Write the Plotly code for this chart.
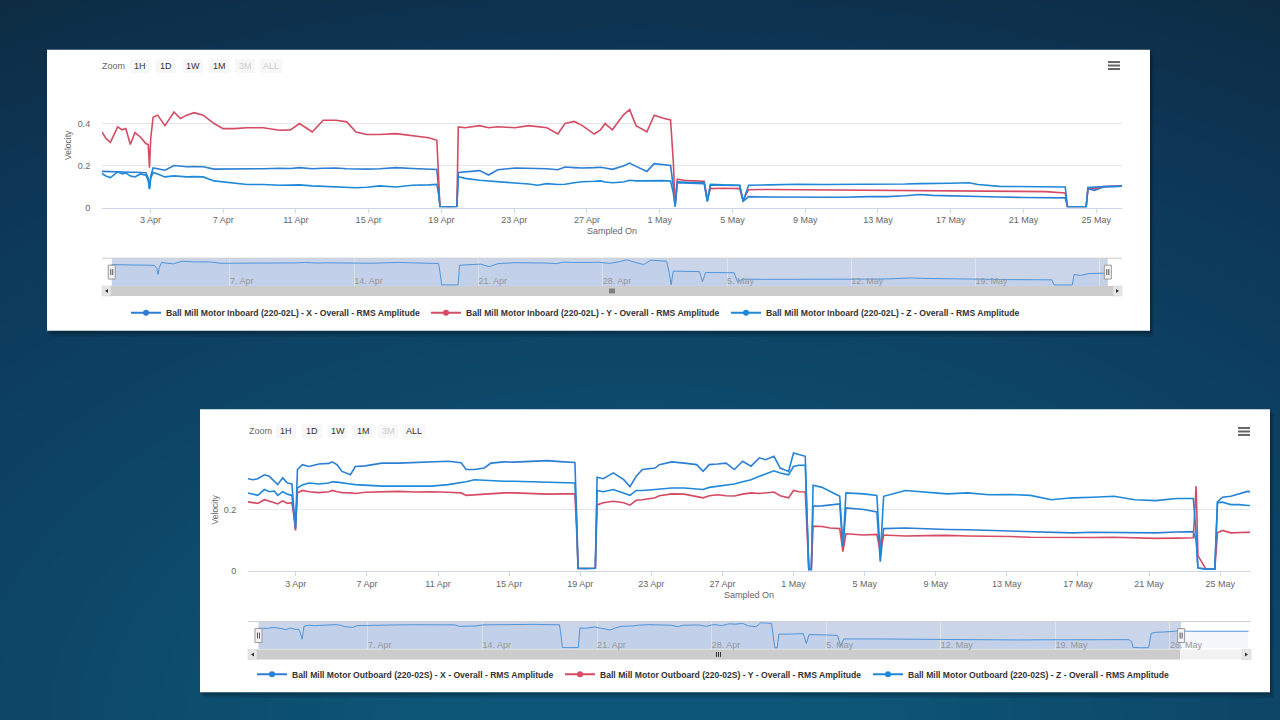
import plotly.graph_objects as go
from datetime import datetime, timedelta

W, H = 1280, 720
BASE = datetime(2019, 4, 1)
FONT = "Liberation Sans, Arial, sans-serif"

# ---------------- data: time in days after 1 Apr, values = velocity (RMS amplitude)
top_days = [-0.66, -0.45, -0.2, 0.0, 0.2, 0.45, 0.65, 0.9, 1.15, 1.45,
            1.75, 1.88, 1.95, 2.02, 2.15, 2.4, 2.8, 3.3, 3.65, 4.0,
            4.4, 4.9, 5.5, 6.0, 6.6, 7.3, 8.2, 9.1, 9.7, 10.2,
            10.9, 11.5, 12.2, 12.8, 13.3, 13.9, 14.6, 15.5, 16.4, 17.3,
            17.75, 17.85, 17.92, 18.4, 18.85, 18.93, 19.3, 20.1, 20.6, 21.1,
            22.05, 22.8, 23.3, 23.8, 24.4, 24.8, 25.3, 25.75, 26.4, 26.75,
            27.0, 27.4, 28.0, 28.35, 28.7, 29.3, 29.7, 30.2, 30.6, 30.75,
            30.85, 30.97, 31.5, 32.0, 32.45, 32.62, 32.79, 33.5, 34.4, 34.59,
            34.89, 36.0, 37.6, 39.0, 40.1, 41.5, 42.5, 43.5, 44.3, 45.0,
            46.0, 47.0, 47.5, 48.7, 50.0, 51.2, 52.3, 52.42, 53.0, 53.45,
            53.55, 53.9, 54.4, 55.0, 55.45]
top_x = [0.172, 0.171, 0.171, 0.170, 0.170, 0.169, 0.169, 0.168, 0.168, 0.167,
         0.166, 0.140, 0.090, 0.150, 0.189, 0.185, 0.178, 0.200, 0.196, 0.194,
         0.195, 0.194, 0.183, 0.183, 0.184, 0.186, 0.185, 0.187, 0.186, 0.190,
         0.185, 0.187, 0.188, 0.185, 0.184, 0.183, 0.185, 0.190, 0.186, 0.183,
         0.181, 0.090, 0.005, 0.004, 0.005, 0.167, 0.170, 0.176, 0.155, 0.180,
         0.188, 0.188, 0.188, 0.185, 0.180, 0.193, 0.190, 0.188, 0.190, 0.192,
         0.188, 0.182, 0.198, 0.212, 0.196, 0.172, 0.209, 0.205, 0.200, 0.100,
         0.005, 0.118, 0.116, 0.115, 0.114, 0.030, 0.106, 0.106, 0.105, 0.030,
         0.052, 0.050, 0.049, 0.051, 0.049, 0.052, 0.052, 0.056, 0.062, 0.058,
         0.055, 0.052, 0.054, 0.050, 0.048, 0.047, 0.046, 0.004, 0.004, 0.004,
         0.090, 0.082, 0.098, 0.101, 0.102]
top_y = [0.36, 0.33, 0.31, 0.35, 0.384, 0.37, 0.376, 0.30, 0.357, 0.336,
         0.305, 0.30, 0.19, 0.33, 0.43, 0.44, 0.39, 0.455, 0.424, 0.44,
         0.452, 0.44, 0.40, 0.376, 0.376, 0.38, 0.38, 0.368, 0.37, 0.40,
         0.36, 0.416, 0.416, 0.408, 0.36, 0.348, 0.348, 0.352, 0.341, 0.332,
         0.32, 0.15, 0.005, 0.004, 0.005, 0.384, 0.38, 0.39, 0.38, 0.385,
         0.38, 0.39, 0.385, 0.38, 0.35, 0.40, 0.41, 0.39, 0.35, 0.37,
         0.40, 0.37, 0.44, 0.466, 0.39, 0.36, 0.44, 0.425, 0.417, 0.22,
         0.006, 0.135, 0.128, 0.125, 0.125, 0.04, 0.09, 0.092, 0.09, 0.035,
         0.085, 0.086, 0.085, 0.084, 0.085, 0.083, 0.082, 0.082, 0.080, 0.080,
         0.079, 0.078, 0.078, 0.077, 0.077, 0.076, 0.069, 0.004, 0.004, 0.004,
         0.095, 0.090, 0.100, 0.103, 0.104]
top_z = [0.162, 0.150, 0.143, 0.158, 0.170, 0.160, 0.165, 0.150, 0.146, 0.160,
         0.154, 0.130, 0.088, 0.140, 0.167, 0.160, 0.146, 0.151, 0.148, 0.146,
         0.147, 0.146, 0.127, 0.122, 0.118, 0.110, 0.110, 0.106, 0.107, 0.108,
         0.103, 0.100, 0.098, 0.094, 0.094, 0.097, 0.103, 0.098, 0.106, 0.108,
         0.110, 0.060, 0.005, 0.004, 0.005, 0.147, 0.139, 0.130, 0.127, 0.123,
         0.118, 0.112, 0.106, 0.114, 0.110, 0.111, 0.118, 0.123, 0.125, 0.127,
         0.122, 0.118, 0.122, 0.130, 0.127, 0.128, 0.127, 0.128, 0.126, 0.070,
         0.005, 0.122, 0.120, 0.120, 0.119, 0.030, 0.111, 0.108, 0.106, 0.030,
         0.106, 0.108, 0.111, 0.110, 0.110, 0.112, 0.111, 0.112, 0.114, 0.114,
         0.116, 0.118, 0.110, 0.101, 0.100, 0.099, 0.098, 0.004, 0.004, 0.004,
         0.095, 0.098, 0.100, 0.101, 0.102]

bot_days = [-0.69, -0.42, -0.14, 0.23, 0.51, 0.79, 0.98, 1.26, 1.53, 1.78,
            1.91, 1.98, 2.09, 2.37, 2.74, 3.30, 3.86, 4.05, 4.33, 4.60,
            5.07, 5.35, 5.91, 6.84, 7.77, 8.70, 9.63, 10.56, 11.30, 11.58,
            12.05, 12.60, 12.98, 13.72, 14.28, 15.21, 16.14, 17.07, 17.70, 17.80,
            17.88, 18.3, 18.85, 18.95, 19.3, 19.86, 20.45, 20.80, 21.15, 21.5,
            22.21, 22.45, 23.15, 23.85, 24.55, 24.91, 25.26, 25.73, 26.2, 26.67,
            27.14, 27.61, 28.08, 28.43, 28.9, 29.25, 29.72, 30.0, 30.3, 30.66,
            30.76, 30.86, 31.0, 31.1, 31.6, 32.07, 32.6, 32.78, 32.95, 33.94,
            34.69, 34.88, 35.07, 36.29, 37.5, 38.64, 39.8, 40.99, 42.2, 43.33,
            44.51, 45.68, 46.85, 48.03, 49.2, 50.38, 51.55, 52.49, 52.65, 52.75,
            53.2, 53.7, 53.85, 54.13, 54.6, 55.07, 55.54, 56.3, 57.2, 58.1,
            59.0, 59.8]
bot_x = [0.300, 0.297, 0.300, 0.313, 0.308, 0.292, 0.281, 0.303, 0.286, 0.283,
         0.200, 0.135, 0.330, 0.346, 0.340, 0.348, 0.350, 0.355, 0.345, 0.324,
         0.313, 0.340, 0.342, 0.351, 0.351, 0.353, 0.355, 0.357, 0.352, 0.330,
         0.330, 0.335, 0.351, 0.355, 0.354, 0.357, 0.359, 0.355, 0.353, 0.180,
         0.009, 0.008, 0.009, 0.305, 0.300, 0.319, 0.297, 0.274, 0.308, 0.330,
         0.335, 0.346, 0.355, 0.351, 0.346, 0.324, 0.346, 0.348, 0.351, 0.330,
         0.357, 0.341, 0.368, 0.362, 0.373, 0.335, 0.324, 0.384, 0.378, 0.373,
         0.180, 0.005, 0.005, 0.211, 0.212, 0.215, 0.218, 0.070, 0.205, 0.200,
         0.192, 0.030, 0.138, 0.140, 0.137, 0.135, 0.134, 0.132, 0.130, 0.130,
         0.127, 0.124, 0.126, 0.126, 0.125, 0.124, 0.127, 0.128, 0.100, 0.010,
         0.006, 0.006, 0.225, 0.240, 0.243, 0.251, 0.259, 0.255, 0.257, 0.254,
         0.256, 0.255]
bot_y = [0.225, 0.222, 0.220, 0.232, 0.228, 0.222, 0.218, 0.228, 0.220, 0.222,
         0.170, 0.132, 0.254, 0.262, 0.258, 0.255, 0.258, 0.262, 0.258, 0.255,
         0.254, 0.252, 0.256, 0.258, 0.259, 0.257, 0.258, 0.256, 0.254, 0.246,
         0.248, 0.250, 0.252, 0.254, 0.254, 0.252, 0.250, 0.251, 0.251, 0.130,
         0.008, 0.008, 0.009, 0.215, 0.222, 0.227, 0.222, 0.214, 0.230, 0.232,
         0.238, 0.245, 0.251, 0.250, 0.242, 0.238, 0.245, 0.248, 0.245, 0.244,
         0.250, 0.254, 0.252, 0.255, 0.257, 0.245, 0.238, 0.262, 0.258, 0.257,
         0.130, 0.005, 0.005, 0.146, 0.145, 0.140, 0.138, 0.063, 0.121, 0.117,
         0.119, 0.063, 0.117, 0.114, 0.115, 0.116, 0.114, 0.114, 0.112, 0.110,
         0.109, 0.108, 0.109, 0.110, 0.107, 0.106, 0.107, 0.108, 0.276, 0.050,
         0.006, 0.006, 0.124, 0.132, 0.124, 0.126, 0.126, 0.125, 0.124, 0.125,
         0.124, 0.125]
bot_z = [0.254, 0.250, 0.246, 0.265, 0.258, 0.260, 0.246, 0.258, 0.250, 0.246,
         0.180, 0.140, 0.270, 0.280, 0.286, 0.283, 0.286, 0.290, 0.289, 0.286,
         0.283, 0.281, 0.279, 0.276, 0.276, 0.276, 0.276, 0.281, 0.286, 0.290,
         0.297, 0.295, 0.294, 0.292, 0.292, 0.290, 0.289, 0.287, 0.286, 0.150,
         0.008, 0.008, 0.009, 0.262, 0.258, 0.265, 0.254, 0.246, 0.262, 0.262,
         0.265, 0.266, 0.270, 0.270, 0.268, 0.265, 0.272, 0.276, 0.280, 0.283,
         0.290, 0.297, 0.308, 0.315, 0.326, 0.319, 0.313, 0.340, 0.344, 0.344,
         0.170, 0.005, 0.005, 0.279, 0.272, 0.259, 0.243, 0.080, 0.254, 0.251,
         0.246, 0.050, 0.243, 0.262, 0.256, 0.251, 0.254, 0.248, 0.249, 0.246,
         0.232, 0.238, 0.240, 0.243, 0.232, 0.229, 0.236, 0.236, 0.120, 0.010,
         0.006, 0.006, 0.222, 0.224, 0.216, 0.216, 0.213, 0.214, 0.213, 0.214,
         0.213, 0.214]

top_names = ["Ball Mill Motor Inboard (220-02L) - X - Overall - RMS Amplitude",
             "Ball Mill Motor Inboard (220-02L) - Y - Overall - RMS Amplitude",
             "Ball Mill Motor Inboard (220-02L) - Z - Overall - RMS Amplitude"]
bot_names = ["Ball Mill Motor Outboard (220-02S) - X - Overall - RMS Amplitude",
             "Ball Mill Motor Outboard (220-02S) - Y - Overall - RMS Amplitude",
             "Ball Mill Motor Outboard (220-02S) - Z - Overall - RMS Amplitude"]
zoom_buttons = ["1H", "1D", "1W", "1M", "3M", "ALL"]
nav_week_ticks = ["2019-04-07", "2019-04-14", "2019-04-21", "2019-04-28",
                  "2019-05-05", "2019-05-12", "2019-05-19", "2019-05-26"]
y_title = "Velocity"
x_title = "Sampled On"

for arr in (top_x, top_y, top_z):
    assert len(arr) == len(top_days), len(arr)
for arr in (bot_x, bot_y, bot_z):
    assert len(arr) == len(bot_days), len(arr)

# ---------------- styling
C_X = "#2b7fd4"
C_Y = "#d64a63"
C_Z = "#1f88d8"
C_NAV = "#4f95dc"


def px(x):
    return x / W


def py(y):
    return 1 - y / H


def ds(t):
    return (BASE + timedelta(days=t)).strftime("%Y-%m-%d %H:%M:%S")


def dates(days):
    return [BASE + timedelta(days=t) for t in days]


fig = go.Figure()

charts = [
    dict(days=top_days, series=[top_x, top_y, top_z], names=top_names,
         xa="x", ya="y", nxa="x2", nya="y2", legend="legend"),
    dict(days=bot_days, series=[bot_x, bot_y, bot_z], names=bot_names,
         xa="x3", ya="y3", nxa="x4", nya="y4", legend="legend2"),
]
colors = [C_X, C_Y, C_Z]

for ch in charts:
    xd = dates(ch["days"])
    # navigator (series X)
    fig.add_trace(go.Scatter(x=xd, y=ch["series"][0], mode="lines",
                             line=dict(color=C_NAV, width=1),
                             fill="tozeroy", fillcolor="rgba(47,126,216,0.05)",
                             xaxis=ch["nxa"], yaxis=ch["nya"], showlegend=False,
                             hoverinfo="skip"))
    for vals, col, name in zip(ch["series"], colors, ch["names"]):
        fig.add_trace(go.Scatter(x=xd, y=vals, mode="lines", name=name,
                                 line=dict(color=col, width=1.6),
                                 xaxis=ch["xa"], yaxis=ch["ya"], showlegend=False))
    for col, name in zip(colors, ch["names"]):
        fig.add_trace(go.Scatter(x=[None], y=[None], mode="lines+markers", name=name,
                                 line=dict(color=col, width=2), marker=dict(color=col, size=6),
                                 xaxis=ch["xa"], yaxis=ch["ya"], legend=ch["legend"]))

tick_font = dict(family=FONT, size=9, color="#666666")


def main_x(dom, rng, anchor):
    return dict(domain=dom, anchor=anchor, type="date", range=[ds(rng[0]), ds(rng[1])],
                tick0="2019-04-03", dtick=4 * 86400000, tickformat="%-d %b",
                ticks="outside", ticklen=4, tickcolor="#ccd6eb",
                showline=True, linecolor="#ccd6eb", linewidth=1,
                showgrid=False, zeroline=False, tickfont=tick_font, fixedrange=True)


def main_y(dom, anchor, top):
    vals = [0, 0.2, 0.4, 0.6][: int(round(top / 0.2)) + 1]
    txt = ["0", "0.2", "0.4", "0.6"][: len(vals)]
    txt[-1] = ""
    return dict(domain=dom, anchor=anchor, range=[0, top + 0.0005], tickvals=vals, ticktext=txt,
                showgrid=True, gridcolor="#e6e6e6", gridwidth=1, zeroline=False,
                ticks="outside", ticklen=9, tickcolor="rgba(0,0,0,0)",
                tickfont=tick_font, showline=False, fixedrange=True)


def nav_x(dom, rng, anchor):
    return dict(domain=dom, anchor=anchor, type="date", range=[ds(rng[0]), ds(rng[1])],
                tickvals=nav_week_ticks, tickformat="%-d. %b",
                ticklabelposition="inside right", ticks="", ticklabelstandoff=-6,
                showgrid=True, gridcolor="#e6e6e6", gridwidth=1,
                showline=False, zeroline=False,
                tickfont=dict(family=FONT, size=9, color="#999999"), fixedrange=True)


def nav_y(dom, anchor, rng):
    return dict(domain=dom, anchor=anchor, range=rng, visible=False, fixedrange=True)


top_view = (-0.66, 55.42)
bot_view = (-0.69, 55.68)
top_nav_view = (-1.21, 56.25)
bot_nav_view = (-1.33, 59.95)

legend_font = dict(family=FONT, size=8.6, color="#333333", weight="bold")

fig.update_layout(
    width=W, height=H, margin=dict(l=0, r=0, t=0, b=0),
    paper_bgcolor="#0d2c43", plot_bgcolor="#ffffff",
    xaxis=main_x([px(102), px(1122)], top_view, "y"),
    yaxis=main_y([py(209), py(82)], "x", 0.6),
    xaxis2=nav_x([px(102), px(1122)], top_nav_view, "y2"),
    yaxis2=nav_y([py(288), py(260)], "x2", [-0.005, 0.225]),
    xaxis3=main_x([px(248), px(1250)], bot_view, "y3"),
    yaxis3=main_y([py(575), py(451)], "x3", 0.4),
    xaxis4=nav_x([px(248), px(1251)], bot_nav_view, "y4"),
    yaxis4=nav_y([py(654), py(626)], "x4", [-0.02, 0.40]),
    legend=dict(x=px(126), y=py(315), xanchor="left", yanchor="middle", orientation="h",
                entrywidth=255, font=legend_font, bgcolor="rgba(0,0,0,0)",
                itemclick=False, itemdoubleclick=False),
    legend2=dict(x=px(252), y=py(679), xanchor="left", yanchor="middle", orientation="h",
                 entrywidth=263, font=legend_font, bgcolor="rgba(0,0,0,0)",
                 itemclick=False, itemdoubleclick=False),
    hovermode=False,
)

shapes = []
annotations = []


def rect(x0, y0, x1, y1, fill, line=None, lw=0, layer="below"):
    shapes.append(dict(type="rect", xref="paper", yref="paper",
                       x0=px(x0), x1=px(x1), y0=py(y1), y1=py(y0),
                       fillcolor=fill, line=dict(color=line or "rgba(0,0,0,0)", width=lw),
                       layer=layer))


def hline(x0, x1, y, color, width=1, layer="above"):
    shapes.append(dict(type="line", xref="paper", yref="paper", x0=px(x0), x1=px(x1),
                       y0=py(y), y1=py(y), line=dict(color=color, width=width), layer=layer))


def vline(x, y0, y1, color, width=1, layer="above"):
    shapes.append(dict(type="line", xref="paper", yref="paper", x0=px(x), x1=px(x),
                       y0=py(y0), y1=py(y1), line=dict(color=color, width=width), layer=layer))


def text(x, y, s, size=9, color="#666666", angle=0, weight="normal", anchor="center"):
    annotations.append(dict(x=px(x), y=py(y), xref="paper", yref="paper", text=s,
                            showarrow=False, xanchor=anchor, yanchor="middle",
                            textangle=angle,
                            font=dict(family=FONT, size=size, color=color, weight=weight)))


# slide background glow (smooth radial gradient from many faint layers)
for i in range(44):
    rx, ry = 1320 - i * 27, 820 - i * 17
    shapes.append(dict(type="circle", xref="paper", yref="paper",
                       x0=px(640 - rx), x1=px(640 + rx), y0=py(730 + ry), y1=py(730 - ry),
                       fillcolor="rgba(40,125,165,0.024)", line=dict(width=0), layer="below"))

# panels with soft shadow
for (x0, y0, x1, y1) in [(47, 50, 1150, 333), (200, 412, 1270, 697)]:
    rect(x0 + 4, y0 + 5, x1 + 4, y1 + 6, "rgba(0,0,0,0.10)")
    rect(x0 + 2, y0 + 2, x1 + 2, y1 + 3, "rgba(0,0,0,0.18)")
    rect(x0, y0, x1, y1, "#ffffff")

# range-selector buttons
for zoom_x, btn_xs, yc, enabled in [
    (113.5, [140, 165.5, 193, 219.5, 245, 271], 66.5, [True, True, True, True, False, False]),
    (260, [286, 312, 337.5, 363, 388, 414], 434.5, [True, True, True, True, False, True]),
]:
    text(zoom_x, yc, "Zoom", size=9, color="#666666")
    for lab, bx, en in zip(zoom_buttons, btn_xs, enabled):
        w = 11 if lab == "ALL" else 10
        rect(bx - w, yc - 7, bx + w, yc + 7, "#f7f7f7")
        text(bx, yc, lab, size=9, color="#333333" if en else "#cccccc")

# export menu icons
for (x0, x1, yc) in [(1108, 1120, 66), (1238, 1250, 434.5)]:
    for dy in (-3.5, 0, 3.5):
        hline(x0, x1, yc + dy, "#666666", width=2)

# axis titles
text(68, 146, y_title, size=8.5, angle=-90)
text(612, 233, x_title, size=9)
text(215, 513, y_title, size=8.5, angle=-90)
text(749, 599, x_title, size=9)

# navigators: selection mask, outline, handles
for (nxa, nya, t0, t1, yt, yb, xl, xr) in [
    ("x2", "y2", top_days[0], top_days[-1], 260, 288, 102, 1122),
    ("x4", "y4", bot_days[0], bot_view[1], 626, 654, 248, 1251),
]:
    shapes.append(dict(type="rect", xref=nxa, yref=nya + " domain", x0=ds(t0), x1=ds(t1),
                       y0=0, y1=1, fillcolor="rgba(102,133,194,0.34)", line=dict(width=0),
                       layer="below"))
    hline(xl, xr, yt, "#cccccc", 1)
    yc = (yt + yb) / 2
    for t in (t0, t1):
        shapes.append(dict(type="rect", xref=nxa, yref="paper", xsizemode="pixel", xanchor=ds(t),
                           x0=-3.5, x1=3.5, y0=py(yc + 7), y1=py(yc - 7),
                           fillcolor="#f2f2f2", line=dict(color="#999999", width=1), layer="above"))
        for dx in (-1, 1):
            shapes.append(dict(type="line", xref=nxa, yref="paper", xsizemode="pixel",
                               xanchor=ds(t), x0=dx, x1=dx, y0=py(yc + 3), y1=py(yc - 3),
                               line=dict(color="#555555", width=1), layer="above"))

# scrollbars
for (xl, xr, thumb0, thumb1, yt, yb) in [(102, 1122, 111, 1113, 288, 298),
                                          (248, 1251, 257, 1180, 654, 664)]:
    rect(xl, yt, xr, yb, "#f2f2f2")
    rect(thumb0, yt, thumb1, yb, "#cccccc")
    rect(xl, yt, xl + 9, yb, "#e6e6e6", "#cccccc", 0.5)
    rect(xr - 9, yt, xr, yb, "#e6e6e6", "#cccccc", 0.5)
    yc = (yt + yb) / 2
    lx, rx_ = xl + 4.5, xr - 4.5
    shapes.append(dict(type="path", xref="paper", yref="paper",
                       path=f"M {px(lx + 1.5)},{py(yc - 2)} L {px(lx - 1.5)},{py(yc)} L {px(lx + 1.5)},{py(yc + 2)} Z",
                       fillcolor="#333333", line=dict(width=0), layer="above"))
    shapes.append(dict(type="path", xref="paper", yref="paper",
                       path=f"M {px(rx_ - 1.5)},{py(yc - 2)} L {px(rx_ + 1.5)},{py(yc)} L {px(rx_ - 1.5)},{py(yc + 2)} Z",
                       fillcolor="#333333", line=dict(width=0), layer="above"))
    gc = (thumb0 + thumb1) / 2
    for dx in (-2, 0, 2):
        vline(gc + dx, yc - 2.5, yc + 2.5, "#333333", 1)

fig.update_layout(shapes=shapes, annotations=annotations)
fig.write_html("out.html")
